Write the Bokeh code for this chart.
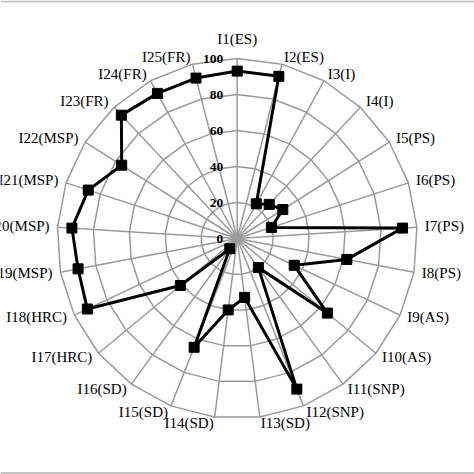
import math
from bokeh.plotting import figure
from bokeh.models import Range1d
from bokeh.core.properties import value
from bokeh.embed import file_html
from bokeh.resources import INLINE

categories = ["I1(ES)", "I2(ES)", "I3(I)", "I4(I)", "I5(PS)", "I6(PS)", "I7(PS)", "I8(PS)",
              "I9(AS)", "I10(AS)", "I11(SNP)", "I12(SNP)", "I13(SD)", "I14(SD)", "I15(SD)",
              "I16(SD)", "I17(HRC)", "I18(HRC)", "I19(MSP)", "I20(MSP)", "I21(MSP)",
              "I22(MSP)", "I23(FR)", "I24(FR)", "I25(FR)"]
scores = [93, 93, 22, 26, 30, 20, 92, 62, 35, 65, 20, 90, 33, 40, 65, 7, 41, 92, 90, 92,
          87, 76, 94, 92, 92]
radial_ticks = [0, 20, 40, 60, 80, 100]

W = H = 474
PX = 1.8           # pixels per unit
CX, CY = 236.7, 238.0   # centre in figure pixels (from top-left)

x_lo, x_hi = -CX / PX, (W - CX) / PX
y_lo, y_hi = -(H - CY) / PX, CY / PX
p = figure(width=W, height=H, output_backend="svg", toolbar_location=None,
           x_range=Range1d(x_lo, x_hi), y_range=Range1d(y_lo, y_hi),
           min_border=0)
p.axis.visible = False
p.grid.visible = False
p.outline_line_color = None
p.background_fill_color = "white"

# grey page rules at top and bottom of the image
p.quad(left=[x_lo, x_lo], right=[x_hi, x_hi],
       bottom=[y_hi - 2 / PX, y_lo], top=[y_hi, y_lo + 2.5 / PX],
       fill_color="#c4c4c4", line_color=None)

n = len(categories)
angles = [2 * math.pi * i / n for i in range(n)]
sins = [math.sin(a) for a in angles]
coss = [math.cos(a) for a in angles]
RMAX = radial_ticks[-1]
GRID = "#9a9a9a"

# rings
ring_xs, ring_ys = [], []
for t in radial_ticks[1:]:
    ring_xs.append([t * s for s in sins] + [t * sins[0]])
    ring_ys.append([t * c for c in coss] + [t * coss[0]])
p.multi_line(ring_xs, ring_ys, line_color=GRID, line_width=1.5)

# spokes
p.segment(x0=[0] * n, y0=[0] * n, x1=[RMAX * s for s in sins], y1=[RMAX * c for c in coss],
          line_color=GRID, line_width=1.5)

# series
xs = [v * s for v, s in zip(scores, sins)]
ys = [v * c for v, c in zip(scores, coss)]
p.line(xs + [xs[0]], ys + [ys[0]], line_color="black", line_width=3)
p.scatter(xs, ys, marker="square", size=10, fill_color="black", line_color="black")

# radial tick labels
p.text(x=[-14 / PX] * len(radial_ticks), y=radial_ticks, text=[str(t) for t in radial_ticks],
       text_font=value("Liberation Serif"), text_font_style="bold", text_font_size="13.5px",
       text_align="right", text_baseline="middle", text_color="black")

# category labels
groups = {"left": ([], [], []), "right": ([], [], []), "center": ([], [], [])}
for lab, s, c in zip(categories, sins, coss):
    ex, ey = RMAX * s, RMAX * c
    if abs(s) < 0.05:
        g = groups["center"]
        g[0].append(ex)
        g[1].append(ey + (20 if c > 0 else -20) / PX)
        g[2].append(lab)
    else:
        key = "left" if s > 0 else "right"
        g = groups[key]
        g[0].append(ex + 8 * s / PX)
        g[1].append(ey + (7 * c + 0.8) / PX)
        g[2].append(lab)
for key, (gx, gy, gt) in groups.items():
    if not gt:
        continue
    p.text(x=gx, y=gy, text=gt, text_font=value("Liberation Serif"), text_font_size="15px",
           text_align=key, text_baseline="middle", text_color="black")

open("out.html", "w").write(file_html(p, INLINE))
